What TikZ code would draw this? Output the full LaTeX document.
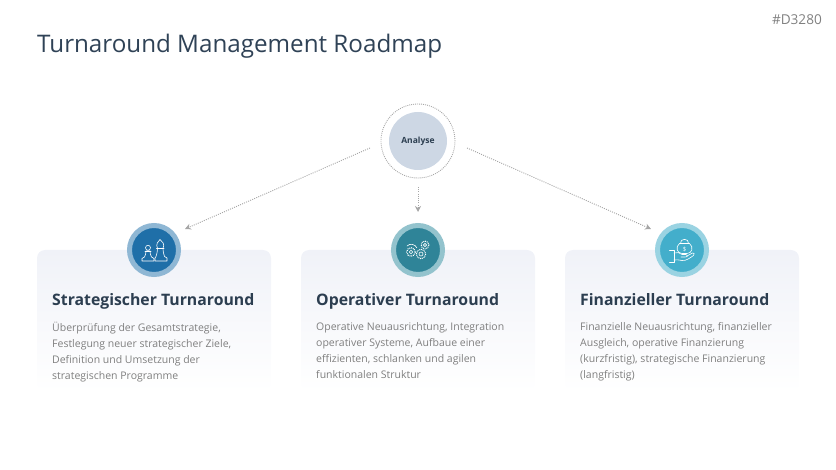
\documentclass[tikz,border=0pt]{standalone}
\usepackage{fontspec}
\setmainfont{Open Sans}
\usetikzlibrary{positioning, arrows.meta}
\definecolor{titleblue}{HTML}{2F4256}
\definecolor{headblue}{HTML}{2C3E50}
\definecolor{bodygray}{HTML}{7F7F7F}
\definecolor{cardtop}{HTML}{F0F2F8}
\definecolor{analysefill}{HTML}{CDD7E4}
\definecolor{linegray}{HTML}{A6A6A6}
\definecolor{chessin}{HTML}{1F6FA8}
\definecolor{chessout}{HTML}{8FB7D4}
\definecolor{gearin}{HTML}{2F8498}
\definecolor{gearout}{HTML}{93C3CD}
\definecolor{moneyin}{HTML}{43AECB}
\definecolor{moneyout}{HTML}{9AD3E2}
\tikzset{
  cardbox/.style={minimum width=234pt, minimum height=142pt, rounded corners=8pt, top color=cardtop, bottom color=white, inner sep=0pt, outer sep=0pt},
  cardhead/.style={font=\fontsize{15.8}{20}\selectfont\bfseries, text=headblue, inner sep=0pt},
  cardtext/.style={font=\fontsize{10.5}{16}\selectfont, text=bodygray, align=left, inner sep=0pt},
  iconring/.style={circle, minimum size=49pt, inner sep=0pt, line width=5pt},
  link/.style={draw=linegray, line width=0.9pt, dash pattern=on 1pt off 1.2pt, -{Stealth[length=6pt, width=6pt, fill=linegray]}},
  ico/.style={draw=white, line width=0.6pt, line join=round, line cap=round},
  teeth/.style={draw=white, line width=1.1pt, dash pattern=on 0.9pt off 0.9pt},
}
\begin{document}
\begin{tikzpicture}[x=1pt, y=-1pt]
\useasboundingbox (0,0) rectangle (836,470);
%title
\node [anchor=base west, inner sep=0pt, font=\fontsize{24.2}{30}\selectfont, text=titleblue] (title) at (37,53) {Turnaround Management Roadmap};
\node [anchor=base east, inner sep=0pt, font=\fontsize{13.6}{15}\selectfont, text=gray] (code) at (822,25) {\#D3280};
%Analyse
\node [circle, fill=analysefill, minimum size=58pt, inner sep=0pt, font=\fontsize{8.5}{10}\selectfont\bfseries, text=headblue] (analyse) at (418,141) {Analyse};
\node [circle, draw=linegray, line width=0.9pt, dash pattern=on 0.9pt off 1.1pt, minimum size=74pt] (ring) at (analyse) {};
%cards
\node [cardbox] (strat) at (154,321) {};
\node [cardbox, right=30pt of strat] (oper) {};
\node [cardbox, right=30pt of oper] (fin) {};
\node [iconring, fill=chessin, draw=chessout] (stratIcon) at (strat.north) {};
\node [iconring, fill=gearin, draw=gearout] (operIcon) at (oper.north) {};
\node [iconring, fill=moneyin, draw=moneyout] (finIcon) at (fin.north) {};
%arrows
\coordinate (startL) at (370,148);
\coordinate (startM) at (418,187);
\coordinate (startR) at (467,148);
\coordinate (endL) at (185,229);
\coordinate (endM) at (418,212);
\coordinate (endR) at (651,229);
\draw [link] (startL) -- (endL);
\draw [link] (startM) -- (endM);
\draw [link] (startR) -- (endR);
%card texts
\node [cardhead, anchor=base west] (stratHead) at (52,306) {Strategischer Turnaround};
\node [cardhead, anchor=base west] (operHead) at (316,306) {Operativer Turnaround};
\node [cardhead, anchor=base west] (finHead) at (580,306) {Finanzieller Turnaround};
\node [cardtext, below right=16pt and 0pt of stratHead.base west, anchor=north west] (stratText) {Überprüfung der Gesamtstrategie,\\Festlegung neuer strategischer Ziele,\\Definition und Umsetzung der\\strategischen Programme};
\node [cardtext, below right=16pt and 0pt of operHead.base west, anchor=north west] (operText) {Operative Neuausrichtung, Integration\\operativer Systeme, Aufbaue einer\\effizienten, schlanken und agilen\\funktionalen Struktur};
\node [cardtext, below right=16pt and 0pt of finHead.base west, anchor=north west] (finText) {Finanzielle Neuausrichtung, finanzieller\\Ausgleich, operative Finanzierung\\(kurzfristig), strategische Finanzierung\\(langfristig)};
%chess icon
\draw [ico] (142,261) -- (154,261) -- (154,258.5) -- (151.5,257) .. controls (150.5,255) and (150,253) .. (150,251) -- (146,251) .. controls (146,253) and (145.5,255) .. (144.5,257) -- (142,258.5) -- cycle;
\draw [ico] (148,247.8) circle (2.5);
\draw [ico] (145,251) -- (151,251);
\draw [ico] (155,261) -- (167,261) -- (167,258) -- (164.5,256.5) .. controls (163.5,254) and (163,251) .. (163,248.5) -- (157.5,248.5) .. controls (157.5,251) and (157,254) .. (156,256.5) -- (155,258) -- cycle;
\draw [ico] (157.5,248.5) .. controls (155.5,244) and (158,241.5) .. (160,239.5) .. controls (162.5,241.5) and (165,244) .. (163,248.5);
\draw [ico] (156.5,248.5) -- (164,248.5);
%gears icon
\draw [teeth] (411,252) circle (4.3);
\draw [ico] (411,252) circle (1.8);
\draw [teeth] (425,245) circle (3.9);
\draw [ico] (425,245) circle (1.6);
\draw [teeth] (421,254) circle (4.7);
\draw [ico] (421,254) circle (2);
\draw [ico] (407,246) .. controls (410,243) and (415,244) .. (417,248);
%money icon
\draw [ico] (679.5,243.5) .. controls (675,247) and (677,253.5) .. (682,253.5) -- (687,253.5) .. controls (692,253.5) and (694,247) .. (689.5,243.5) -- cycle;
\draw [ico] (680.5,243.5) .. controls (679.5,238) and (689.5,238) .. (688.5,243.5);
\node [inner sep=0pt, text=white, font=\fontsize{6}{6}\selectfont] (dollar) at (684.5,249) {\$};
\draw [ico] (669.5,250.5) -- (674,250.5) -- (674,262) -- (669.5,262);
\draw [ico] (674,253) .. controls (677,251.5) and (680,253) .. (682,254.5) -- (686,254.5) .. controls (688,255) and (688,257) .. (685,257) -- (681,257);
\draw [ico] (687,256) -- (692.5,253) .. controls (694,252.5) and (695,254) .. (693.5,255.5) .. controls (690,258) and (686,261) .. (682,260.5) .. controls (679,260) and (677,259.5) .. (674,260);
\end{tikzpicture}
\end{document}
